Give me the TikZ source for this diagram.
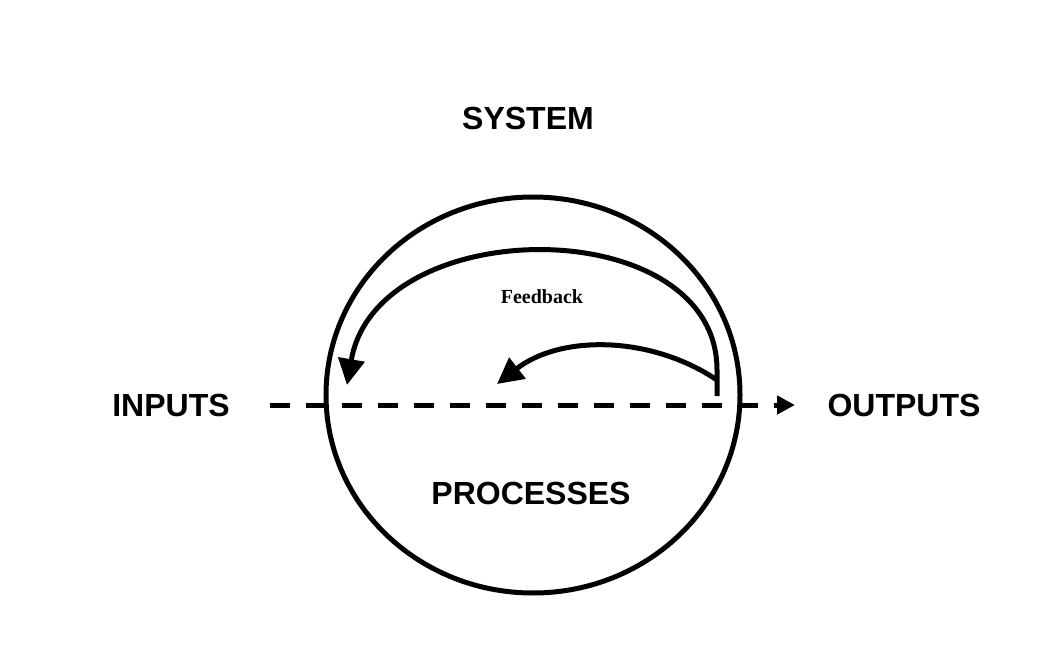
\documentclass[tikz,border=0pt]{standalone}
\usepackage{fontspec}
\setmainfont{Liberation Sans}
\newfontfamily\serifb{Liberation Serif}
\usetikzlibrary{arrows.meta}
\begin{document}
\begin{tikzpicture}[x=1pt,y=-1pt,line width=5pt,
  lbl/.style={font=\bfseries\fontsize{32}{36}\selectfont,inner sep=0pt},
  tip/.style={-{Triangle[length=26pt,width=26pt]}}]
\useasboundingbox (0,0) rectangle (1050,650);
\node[lbl] (sys) at (528,118) {SYSTEM};
\node[lbl] (in) at (171,405) {INPUTS};
\node[lbl] (out) at (904,405) {OUTPUTS};
\node[lbl] (proc) at (531,493) {PROCESSES};
\node[inner sep=0pt,font=\serifb\bfseries\fontsize{20}{24}\selectfont] (fb) at (542,297) {Feedback};
\draw (533,395) ellipse [x radius=207, y radius=198];
\coordinate (a) at (270,405);
\coordinate (b) at (795,405);
\draw[dash pattern=on 20pt off 16pt, -{Triangle[length=18pt,width=18pt]}] (a) -- (b);
\coordinate (s1) at (717,396);
\draw[tip] (s1) -- (717,370) .. controls (717,211) and (377,211) .. (347,385);
\draw[tip] (717,380) .. controls (650,335) and (560,335) .. (497,384);
\end{tikzpicture}
\end{document}
